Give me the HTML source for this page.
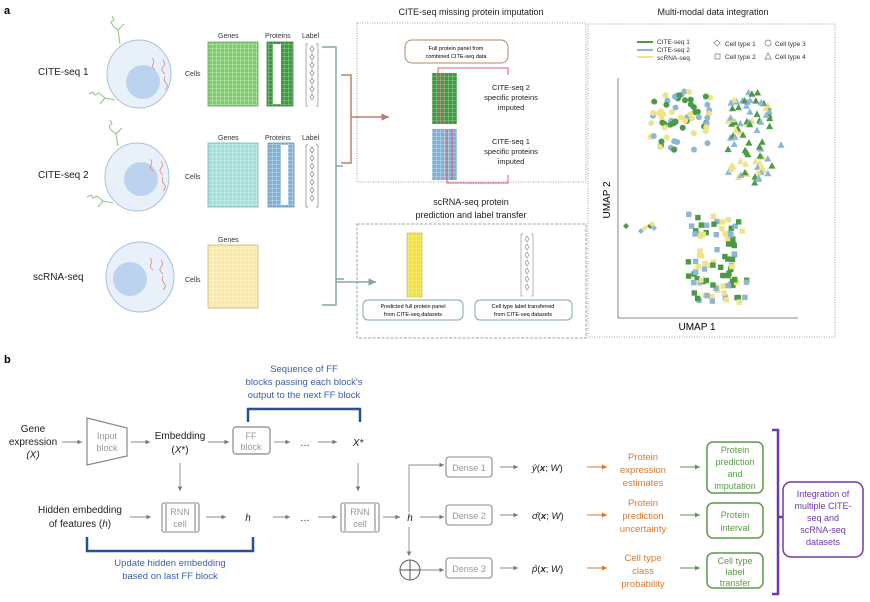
<!DOCTYPE html>
<html><head><meta charset="utf-8"><style>
html,body{margin:0;padding:0;background:#fff}
svg{display:block;font-family:"Liberation Sans",sans-serif}
</style></head><body>
<svg id="s" width="870" height="602" viewBox="0 0 870 602" xmlns="http://www.w3.org/2000/svg">
<defs>
<pattern id="gw" width="4" height="4" patternUnits="userSpaceOnUse"><rect width="4" height="4" fill="#7ccc6a"/><path d="M0 0H4M0 0V4" stroke="#d8f3cf" stroke-width="0.8"/></pattern>
<pattern id="gd" width="4" height="4" patternUnits="userSpaceOnUse"><rect width="4" height="4" fill="#3f9848"/><path d="M0 0H4M0 0V4" stroke="#a8dca0" stroke-width="0.8"/></pattern>
<pattern id="tw" width="4" height="4" patternUnits="userSpaceOnUse"><rect width="4" height="4" fill="#9ee0da"/><path d="M0 0H4M0 0V4" stroke="#e4f8f6" stroke-width="0.8"/></pattern>
<pattern id="bw" width="4" height="4" patternUnits="userSpaceOnUse"><rect width="4" height="4" fill="#7fb0d4"/><path d="M0 0H4M0 0V4" stroke="#dcebf6" stroke-width="0.8"/></pattern>
<pattern id="yw" width="4" height="4" patternUnits="userSpaceOnUse"><rect width="4" height="4" fill="#fbeaa4"/><path d="M0 0H4M0 0V4" stroke="#fff8dc" stroke-width="0.8"/></pattern>
<pattern id="yy" width="4" height="4" patternUnits="userSpaceOnUse"><rect width="4" height="4" fill="#f3e23a"/><path d="M0 0H4M0 0V4" stroke="#faf2a0" stroke-width="0.8"/></pattern>
<marker id="ag" markerWidth="6" markerHeight="6" refX="5" refY="3" orient="auto"><path d="M0 0.5L5 3L0 5.5z" fill="#777"/></marker>
<marker id="ao" markerWidth="6" markerHeight="6" refX="5" refY="3" orient="auto"><path d="M0 0.5L5 3L0 5.5z" fill="#d9792f"/></marker>
<marker id="agr" markerWidth="6" markerHeight="6" refX="5" refY="3" orient="auto"><path d="M0 0.5L5 3L0 5.5z" fill="#5a9a48"/></marker>
<marker id="abr" markerWidth="6" markerHeight="6" refX="5" refY="3" orient="auto"><path d="M0 0.5L5 3L0 5.5z" fill="#b58470"/></marker>
<marker id="at" markerWidth="6" markerHeight="6" refX="5" refY="3" orient="auto"><path d="M0 0.5L5 3L0 5.5z" fill="#86a7a0"/></marker>
</defs>

<text x="4" y="14" font-size="11" font-weight="bold">a</text>
<!-- cells -->
<g fill="#e8f0fa" stroke="#a9c0dc" stroke-width="1">
<ellipse cx="139" cy="74" rx="32" ry="34"/><ellipse cx="137" cy="177" rx="32" ry="34"/><ellipse cx="140" cy="277" rx="34" ry="35"/>
</g>
<g fill="#bcd3ef"><circle cx="143" cy="82" r="17"/><circle cx="141" cy="179" r="17"/><circle cx="130" cy="279" r="17"/></g>
<g stroke="#8fc488" fill="none" stroke-width="1">
<path d="M120 44L118 30M118 30L124 24M118 30L113 26M113 26l-2-4 3-2-2-4"/>
<path d="M115 100L105 98M105 98L100 104M105 98L99 93M99 93l-4 2-2-3-4 2"/>
<path d="M118 146L116 134M116 134L122 128M116 134L111 130M111 130l-2-4 3-2-2-4"/>
<path d="M113 203L103 201M103 201L98 207M103 201L97 196M97 196l-4 2-2-3-4 2"/>
</g>
<g stroke="#e6847e" fill="none" stroke-width="0.8">
<path d="M152 58q3 3 1 6t2 6M163 60q3 4 0 7t2 7M165 76q-2 4 1 7t-1 7"/>
<path d="M150 159q3 3 1 6t2 6M161 161q3 4 0 7t2 7M163 177q-2 4 1 7t-1 7"/>
<path d="M150 258q3 3 1 6t2 6M161 260q3 4 0 7t2 7M163 276q-2 4 1 7t-1 7"/>
</g>
<g font-size="10" fill="#222">
<text x="38" y="75">CITE-seq 1</text><text x="38" y="178">CITE-seq 2</text><text x="33" y="280">scRNA-seq</text>
</g>
<g font-size="7" fill="#333">
<text x="185" y="76">Cells</text><text x="185" y="179">Cells</text><text x="185" y="282">Cells</text>
<text x="218" y="38">Genes</text><text x="265" y="38">Proteins</text><text x="302" y="38">Label</text>
<text x="218" y="140">Genes</text><text x="265" y="140">Proteins</text><text x="302" y="140">Label</text>
<text x="218" y="242">Genes</text>
</g>
<rect x="208" y="42" width="50" height="64" fill="url(#gw)" stroke="#6aa562" stroke-width="0.8"/>
<rect x="267" y="42" width="26" height="64" fill="url(#gd)" stroke="#3a7a40" stroke-width="0.8"/><rect x="273" y="44" width="8" height="60" fill="#fff"/>
<rect x="208" y="143" width="50" height="64" fill="url(#tw)" stroke="#7cb2ad" stroke-width="0.8"/>
<rect x="268" y="143" width="26" height="64" fill="url(#bw)" stroke="#6a96b8" stroke-width="0.8"/><rect x="281" y="145" width="7" height="60" fill="#fff"/>
<rect x="208" y="245" width="50" height="63" fill="url(#yw)" stroke="#c8b96a" stroke-width="0.8"/>
<g fill="none" stroke="#888" stroke-width="0.7">
<path d="M308 44h-2v62h2M316 44h2v62h-2M308 145h-2v62h2M316 145h2v62h-2"/>
<path d="M312 46l2 3-2 3-2-3z M312 54l2 3-2 3-2-3z M312 62l2 3-2 3-2-3z M312 70l2 3-2 3-2-3z M312 78l2 3-2 3-2-3z M312 86l2 3-2 3-2-3z M312 94l2 3-2 3-2-3z"/>
<path d="M312 147l2 3-2 3-2-3z M312 155l2 3-2 3-2-3z M312 163l2 3-2 3-2-3z M312 171l2 3-2 3-2-3z M312 179l2 3-2 3-2-3z M312 187l2 3-2 3-2-3z M312 195l2 3-2 3-2-3z"/>
</g>
<!-- brackets -->
<path d="M322 47h14v258h-14M336 166h7M336 279h8" fill="none" stroke="#86a7a0" stroke-width="1.5"/>
<path d="M336 282h40" fill="none" stroke="#86a7a0" stroke-width="1.5" marker-end="url(#at)"/>
<path d="M341 75h10v88h-10M351 117h38" fill="none" stroke="#b58470" stroke-width="1.5" marker-end="url(#abr)"/>

<!-- imputation box -->
<text x="471" y="15" font-size="9" text-anchor="middle" fill="#222">CITE-seq missing protein imputation</text>
<rect x="357" y="23" width="229" height="159" fill="none" stroke="#888" stroke-width="0.8" stroke-dasharray="1,1.5"/>
<rect x="405" y="40" width="103" height="23" rx="7" fill="#fff" stroke="#b58470" stroke-width="1"/>
<text x="456" y="50" font-size="5.5" text-anchor="middle">Full protein panel from</text>
<text x="456" y="58" font-size="5.5" text-anchor="middle">combined CITE-seq data</text>
<rect x="432" y="73" width="25" height="51" fill="url(#gd)"/>
<rect x="432" y="129" width="25" height="51" fill="url(#bw)"/>
<g fill="none" stroke="#e05a70" stroke-width="1">
<path d="M438 124V68h70v7M443 73v51"/>
<path d="M447 129v54h61v-8M452 129v51"/>
</g>
<g font-size="7.5" text-anchor="middle" fill="#222">
<text x="511" y="90">CITE-seq 2</text><text x="511" y="100">specific proteins</text><text x="511" y="110">imputed</text>
<text x="511" y="144">CITE-seq 1</text><text x="511" y="154">specific proteins</text><text x="511" y="164">imputed</text>
</g>
<text x="471" y="205" font-size="9" text-anchor="middle" fill="#222">scRNA-seq protein</text>
<text x="471" y="218" font-size="9" text-anchor="middle" fill="#222">prediction and label transfer</text>
<rect x="357" y="224" width="229" height="114" fill="none" stroke="#888" stroke-width="0.8" stroke-dasharray="3,1.5"/>
<rect x="407" y="233" width="15" height="64" fill="url(#yy)" stroke="#b8a830" stroke-width="0.5"/>
<g fill="none" stroke="#999" stroke-width="0.7"><path d="M523 234h-2v62h2M531 234h2v62h-2"/>
<path d="M527 236l2 3-2 3-2-3z M527 244l2 3-2 3-2-3z M527 252l2 3-2 3-2-3z M527 260l2 3-2 3-2-3z M527 268l2 3-2 3-2-3z M527 276l2 3-2 3-2-3z M527 284l2 3-2 3-2-3z"/></g>
<rect x="363" y="300" width="100" height="20" rx="5" fill="#fff" stroke="#86a7a0"/>
<rect x="475" y="300" width="97" height="20" rx="5" fill="#fff" stroke="#86a7a0"/>
<g font-size="5.5" text-anchor="middle"><text x="413" y="308">Predicted full protein panel</text><text x="413" y="316">from CITE-seq datasets</text>
<text x="523" y="308">Cell type label transferred</text><text x="523" y="316">from CITE-seq datasets</text></g>

<!-- UMAP -->
<text x="713" y="15" font-size="9" text-anchor="middle" fill="#222">Multi-modal data integration</text>
<rect x="588" y="24" width="247" height="313" fill="none" stroke="#888" stroke-width="0.8" stroke-dasharray="1,1.5"/>
<g stroke-width="2"><path d="M637 42h16" stroke="#4a9a48"/><path d="M637 50h16" stroke="#8fb6d4"/><path d="M637 57h16" stroke="#efe38a"/></g>
<g font-size="6.5" fill="#333"><text x="657" y="44">CITE-seq 1</text><text x="657" y="52">CITE-seq 2</text><text x="657" y="60">scRNA-seq</text>
<text x="725" y="46">Cell type 1</text><text x="775" y="46">Cell type 3</text><text x="725" y="59">Cell type 2</text><text x="775" y="59">Cell type 4</text></g>
<g fill="none" stroke="#777" stroke-width="0.7"><path d="M717 40l3 3-3 3-3-3z"/><circle cx="768" cy="43" r="3"/><rect x="715" y="54" width="5" height="5"/><path d="M768 53l3 6h-6z"/></g>
<path d="M618 78V318H798" fill="none" stroke="#666" stroke-width="0.8"/>
<text x="610" y="200" font-size="10" transform="rotate(-90 610 200)" text-anchor="middle">UMAP 2</text>
<text x="697" y="330" font-size="10" text-anchor="middle">UMAP 1</text>
<g id="pts"></g>

<!-- panel b -->
<text x="4" y="363" font-size="11" font-weight="bold">b</text>
<g font-size="10" fill="#222" text-anchor="middle">
<text x="33" y="432">Gene</text><text x="33" y="445">expression</text><text x="33" y="458" font-style="italic">(X)</text>
<text x="180" y="439">Embedding</text><text x="180" y="453">(<tspan font-style="italic">X</tspan>*)</text>
<text x="358" y="446" font-style="italic">X*</text>
<text x="80" y="513">Hidden embedding</text><text x="80" y="527">of features (<tspan font-style="italic">h</tspan>)</text>
<text x="248" y="521" font-style="italic">h</text><text x="410" y="521" font-style="italic">h</text>
<text x="305" y="446">…</text><text x="305" y="521">…</text>
</g>
<path d="M87 418L127 428V456L87 465z" fill="none" stroke="#888" stroke-width="1.2"/>
<text x="107" y="439" font-size="9" fill="#999" text-anchor="middle">Input</text><text x="107" y="451" font-size="9" fill="#999" text-anchor="middle">block</text>
<rect x="233" y="427" width="37" height="27" rx="3" fill="none" stroke="#888" stroke-width="1.2"/>
<text x="251" y="439" font-size="9" fill="#999" text-anchor="middle">FF</text><text x="251" y="450" font-size="9" fill="#999" text-anchor="middle">block</text>
<g fill="none" stroke="#888" stroke-width="1.1">
<rect x="162" y="503" width="37" height="29" rx="2"/><path d="M166 504v27M195 504v27"/>
<rect x="341" y="503" width="38" height="29" rx="2"/><path d="M345 504v27M375 504v27"/>
</g>
<g font-size="9" fill="#999" text-anchor="middle"><text x="180" y="515">RNN</text><text x="180" y="527">cell</text><text x="360" y="515">RNN</text><text x="360" y="527">cell</text></g>
<g stroke="#888" stroke-width="0.9" fill="none" marker-end="url(#ag)">
<path d="M62 442H82"/><path d="M131 442H150"/><path d="M208 442H229"/><path d="M274 442H290"/><path d="M318 442H337"/>
<path d="M180 463V491"/><path d="M358 463V491"/>
<path d="M130 517H151"/><path d="M206 517H226"/><path d="M273 517H290"/><path d="M318 517H337"/><path d="M383 517H400"/>
<path d="M409 512V465H444"/><path d="M420 517H444"/><path d="M409 527V556"/><path d="M420 570H444"/>
<path d="M500 467H518"/><path d="M500 515H518"/><path d="M500 568H518"/>
</g>
<circle cx="410" cy="570" r="10" fill="none" stroke="#555" stroke-width="1"/><path d="M400 570h20M410 560v20" stroke="#555"/>
<path d="M248 422v-13h112v13" fill="none" stroke="#2c4f93" stroke-width="2.5"/>
<path d="M87 537v14h166v-14" fill="none" stroke="#2c4f93" stroke-width="2.5"/>
<g font-size="9.5" fill="#3c5fa6" text-anchor="middle">
<text x="304" y="372">Sequence of FF</text><text x="304" y="385">blocks passing each block's</text><text x="304" y="398">output to the next FF block</text>
<text x="170" y="566">Update hidden embedding</text><text x="170" y="579">based on last FF block</text>
</g>
<g fill="none" stroke="#888" stroke-width="1.1"><rect x="446" y="457" width="46" height="20" rx="3"/><rect x="446" y="505" width="46" height="20" rx="3"/><rect x="446" y="558" width="46" height="20" rx="3"/></g>
<g font-size="9" fill="#999" text-anchor="middle"><text x="469" y="471">Dense 1</text><text x="469" y="519">Dense 2</text><text x="469" y="572">Dense 3</text></g>
<g font-size="9.5" fill="#222"><text x="532" y="471"><tspan font-style="italic">ŷ</tspan>(<tspan font-style="italic" font-weight="bold">x</tspan>; <tspan font-style="italic">W</tspan>)</text>
<text x="532" y="519"><tspan font-style="italic">σ̂</tspan>(<tspan font-style="italic" font-weight="bold">x</tspan>; <tspan font-style="italic">W</tspan>)</text>
<text x="532" y="572"><tspan font-style="italic">p̂</tspan>(<tspan font-style="italic" font-weight="bold">x</tspan>; <tspan font-style="italic">W</tspan>)</text></g>
<g stroke="#d9792f" stroke-width="1" marker-end="url(#ao)"><path d="M587 467H607"/><path d="M587 515H607"/><path d="M587 568H607"/></g>
<g font-size="9.5" fill="#d9792f" text-anchor="middle">
<text x="643" y="460">Protein</text><text x="643" y="473">expression</text><text x="643" y="486">estimates</text>
<text x="643" y="506">Protein</text><text x="643" y="519">prediction</text><text x="643" y="532">uncertainty</text>
<text x="643" y="561">Cell type</text><text x="643" y="574">class</text><text x="643" y="587">probability</text>
</g>
<g stroke="#5a9a48" stroke-width="1" marker-end="url(#agr)"><path d="M680 467H700"/><path d="M680 515H700"/><path d="M680 568H700"/></g>
<g fill="none" stroke="#5a9a48" stroke-width="1.5"><rect x="707" y="442" width="56" height="51" rx="6"/><rect x="707" y="503" width="56" height="35" rx="6"/><rect x="707" y="553" width="56" height="35" rx="6"/></g>
<g font-size="9" fill="#5a9a48" text-anchor="middle">
<text x="735" y="453">Protein</text><text x="735" y="465">prediction</text><text x="735" y="477">and</text><text x="735" y="489">imputation</text>
<text x="735" y="518">Protein</text><text x="735" y="531">interval</text>
<text x="735" y="564">Cell type</text><text x="735" y="575">label</text><text x="735" y="586">transfer</text>
</g>
<path d="M772 430h6v164h-6M778 517h5" fill="none" stroke="#6a3aa8" stroke-width="2.5"/>
<rect x="783" y="482" width="80" height="75" rx="8" fill="#fff" stroke="#6a3aa8" stroke-width="1.5"/>
<g font-size="9" fill="#6a3aa8" text-anchor="middle"><text x="823" y="497">Integration of</text><text x="823" y="509">multiple CITE-</text><text x="823" y="521">seq and</text><text x="823" y="533">scRNA-seq</text><text x="823" y="545">datasets</text></g>
</svg>
<script>
(function(){
var s=7;function r(){s=(s*9301+49297)%233280;return s/233280;}
var cols=["#4a9a48","#8fb6d4","#efe38a"],g=document.getElementById("pts"),ns="http://www.w3.org/2000/svg",h="";
function add(type,x,y,c){
 if(type==0)h+='<circle cx="'+x+'" cy="'+y+'" r="3" fill="'+c+'"/>';
 else if(type==1)h+='<path d="M'+x+' '+(y-3.5)+'l3.5 6.5h-7z" fill="'+c+'"/>';
 else if(type==2)h+='<rect x="'+(x-2.7)+'" y="'+(y-2.7)+'" width="5.4" height="5.4" fill="'+c+'"/>';
 else h+='<path d="M'+x+' '+(y-3)+'l3 3-3 3-3-3z" fill="'+c+'"/>';}
var i;
for(i=0;i<70;i++){var x=650+r()*62,y=90+r()*62;if(r()<0.3)x=660+r()*40;add(0,x.toFixed(1),y.toFixed(1),cols[(r()*3)|0]);}
for(i=0;i<85;i++){var x=728+r()*42+(r()<0.2?r()*25:0),y=92+r()*92;add(1,x.toFixed(1),y.toFixed(1),cols[(r()*3)|0]);}
for(i=0;i<95;i++){var x=688+r()*52+(r()<0.2?r()*12:0),y=212+r()*92;add(2,x.toFixed(1),y.toFixed(1),cols[(r()*3)|0]);}
add(3,626,226,cols[0]);add(3,641,231,cols[1]);add(3,645,228,cols[2]);add(3,650,226,cols[0]);add(3,654,228,cols[1]);add(3,652,224,cols[2]);
g.innerHTML=h;
})();
</script>
</body></html>
